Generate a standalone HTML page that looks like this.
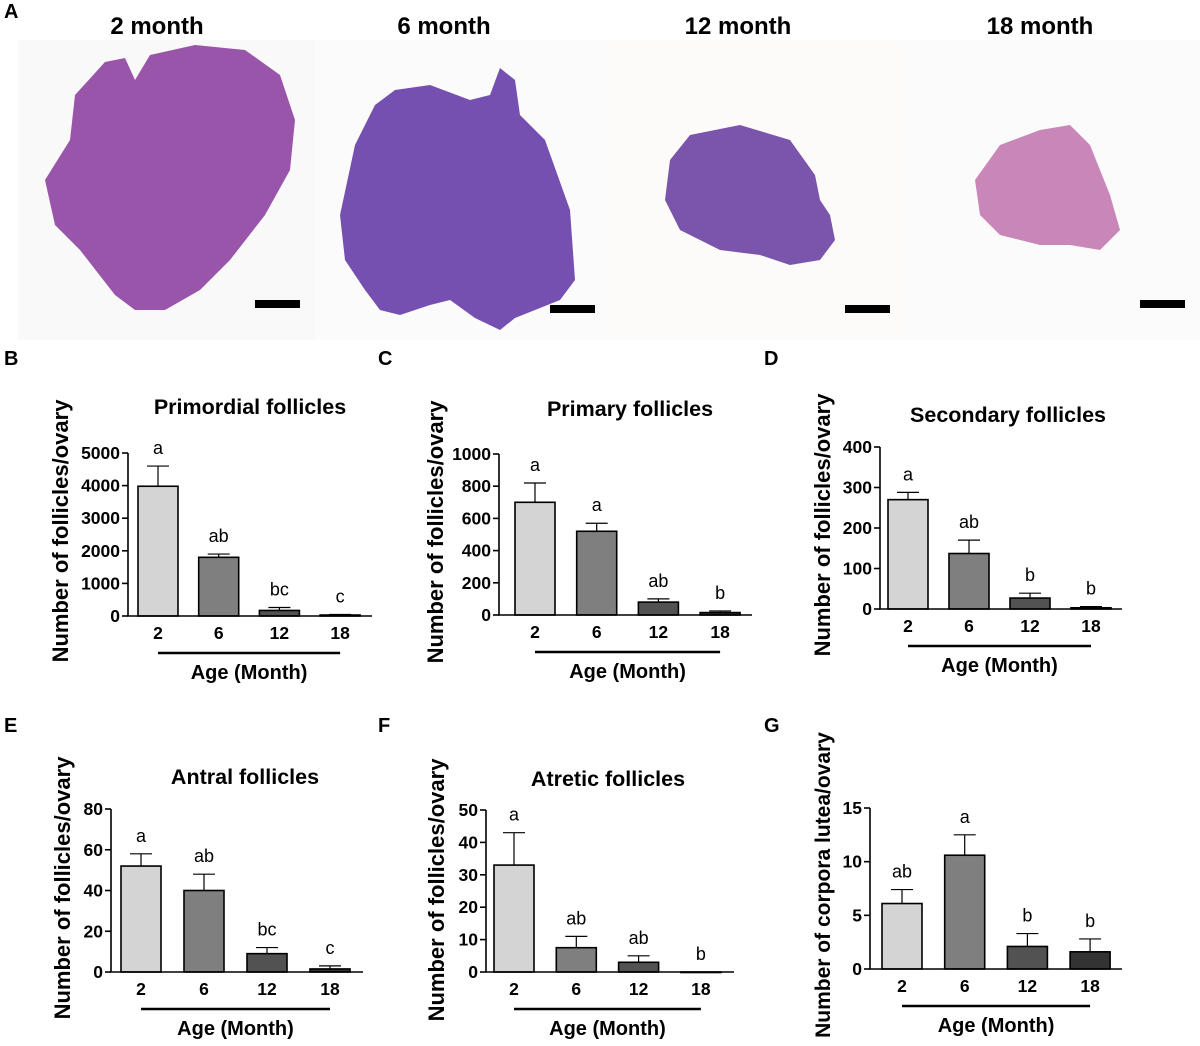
<!DOCTYPE html>
<html><head><meta charset="utf-8"><style>
body{margin:0;background:#fff;}
svg{display:block;font-family:"Liberation Sans",Arial,sans-serif;}
</style></head><body>
<svg id="fig" width="1200" height="1046" viewBox="0 0 1200 1046">
<g>
<text x="4" y="18" font-size="20" font-weight="bold">A</text>
<rect x="18" y="40" width="297" height="300" fill="#f9f9f9"/>
<rect x="315" y="40" width="295" height="300" fill="#fbfbfb"/>
<rect x="610" y="40" width="295" height="300" fill="#fcfbf9"/>
<rect x="905" y="40" width="295" height="300" fill="#fbfbfb"/>
<path d="M45,180 L70,140 L75,95 L105,62 L125,58 L135,80 L150,55 L195,45 L245,50 L280,75 L295,120 L290,170 L265,215 L230,260 L200,290 L165,310 L135,310 L115,295 L80,250 L55,225 Z" fill="#9955aa"/>
<path d="M355,145 L375,105 L395,90 L430,85 L470,100 L490,95 L500,68 L515,80 L520,115 L545,140 L570,210 L575,280 L560,300 L515,318 L500,330 L475,318 L450,300 L430,305 L400,315 L380,310 L365,290 L345,260 L340,215 Z" fill="#7650b0"/>
<path d="M690,135 L740,125 L790,140 L815,175 L820,200 L830,215 L835,240 L820,260 L790,265 L760,255 L720,250 L680,230 L665,200 L670,160 Z" fill="#7a55ab"/>
<path d="M1000,145 L1040,130 L1070,125 L1090,145 L1110,195 L1120,230 L1100,250 L1070,245 L1040,245 L1000,235 L980,215 L975,180 Z" fill="#c986b8"/>
<rect x="255" y="300" width="45" height="8" fill="#000"/>
<rect x="550" y="305" width="45" height="8" fill="#000"/>
<rect x="845" y="305" width="45" height="8" fill="#000"/>
<rect x="1140" y="300" width="45" height="8" fill="#000"/>
<g font-size="24" font-weight="bold" text-anchor="middle">
<text x="157" y="34">2 month</text>
<text x="444" y="34">6 month</text>
<text x="738" y="34">12 month</text>
<text x="1040" y="34">18 month</text>
</g>
</g>
</svg>
<script>
const categories=["2","6","12","18"];
const barColors=["#d4d4d4","#7f7f7f","#525252","#333333"];
const bMeans=[3980,1800,170,30];const bErr=[620,100,90,15];const bLetters=["a","ab","bc","c"];const bTicks=[0,1000,2000,3000,4000,5000];
const cMeans=[700,520,80,15];const cErr=[120,50,20,10];const cLetters=["a","a","ab","b"];const cTicks=[0,200,400,600,800,1000];
const dMeans=[270,137,27,3];const dErr=[18,33,12,3];const dLetters=["a","ab","b","b"];const dTicks=[0,100,200,300,400];
const eMeans=[52,40,9,1.5];const eErr=[6,8,3,1.5];const eLetters=["a","ab","bc","c"];const eTicks=[0,20,40,60,80];
const fMeans=[33,7.5,3,0];const fErr=[10,3.5,2,0];const fLetters=["a","ab","ab","b"];const fTicks=[0,10,20,30,40,50];
const gMeans=[6.1,10.6,2.1,1.6];const gErr=[1.3,1.9,1.2,1.2];const gLetters=["ab","a","b","b"];const gTicks=[0,5,10,15];

const NS="http://www.w3.org/2000/svg";
const svg=document.getElementById('fig');
function mk(tag,attrs,parent,text){const e=document.createElementNS(NS,tag);for(const k in attrs)e.setAttribute(k,attrs[k]);if(text!==undefined)e.textContent=text;parent.appendChild(e);return e;}

function chart(o){
  const g=mk('g',{},svg);
  
  
  const max=o.ticks[o.ticks.length-1];
  const y=v=>o.y0-(v/max)*(o.y0-o.ytop);
  const xc=i=>o.first+i*o.step;
  const pl=mk('text',{x:o.lx,y:o.ly,'font-size':20,'font-weight':'bold'},g,o.id.toUpperCase());
  
  
  if(o.title){const t=mk('text',{x:o.tx,y:o.ty,'font-size':21.5,'font-weight':'bold','text-anchor':'middle'},g,o.title);
  
  }
  const yl=mk('text',{x:0,y:0,'font-size':o.ylfs||22,'font-weight':'bold','text-anchor':'middle',transform:`translate(${o.ylx},${o.yly}) rotate(-90)`},g,o.ylabel);
  
  
  o.means.forEach((m,i)=>{
    const cx=xc(i),top=y(m),et=y(m+o.err[i]);
    if(o.err[i]>0){const el=mk('path',{d:`M${cx},${top} V${et} M${cx-11},${et} H${cx+11}`,stroke:'#000','stroke-width':1.2,fill:'none'},g);
    
    }
    const r=mk('rect',{x:cx-20,y:top,width:40,height:Math.max(o.y0-top,0.5),fill:barColors[i],stroke:'#000','stroke-width':1.6},g);
    
    
    const lt=mk('text',{x:cx,y:Math.min(et,top)-12,'font-size':18,'text-anchor':'middle'},g,o.letters[i]);
    
    
    const tl=mk('text',{x:cx,y:o.y0+23,'font-size':17.5,'font-weight':'bold','text-anchor':'middle'},g,categories[i]);
    
    
  });
  const ax=mk('path',{d:`M${o.ax},${o.ytop} V${o.y0} H${o.xEnd}`,stroke:'#000','stroke-width':1.6,fill:'none'},g);
  
  
  o.ticks.forEach(t=>{
    const tk=mk('line',{x1:o.ax-6,x2:o.ax,y1:y(t),y2:y(t),stroke:'#000','stroke-width':1.6},g);
    
    
    const tl=mk('text',{x:o.ax-8,y:y(t)+6,'font-size':17.5,'font-weight':'bold','text-anchor':'end'},g,String(t));
    
    
  });
  const ul=mk('line',{x1:xc(0),x2:xc(3),y1:o.y0+37,y2:o.y0+37,stroke:'#000','stroke-width':2.5},g);
  
  
  const xt=mk('text',{x:(xc(0)+xc(3))/2,y:o.y0+63,'font-size':20,'font-weight':'bold','text-anchor':'middle'},g,'Age (Month)');
  
  
}
const YL="Number of follicles/ovary";
chart({id:'b',means:bMeans,err:bErr,letters:bLetters,ticks:bTicks,ax:128,y0:616,ytop:453,xEnd:372,first:158,step:60.7,lx:4,ly:365,title:'Primordial follicles',tx:250,ty:414,ylabel:YL,ylx:68,yly:531});
chart({id:'c',means:cMeans,err:cErr,letters:cLetters,ticks:cTicks,ax:499,y0:615,ytop:454,xEnd:752,first:535,step:61.7,lx:378,ly:365,title:'Primary follicles',tx:630,ty:416,ylabel:YL,ylx:443,yly:532});
chart({id:'d',means:dMeans,err:dErr,letters:dLetters,ticks:dTicks,ax:880,y0:609,ytop:447,xEnd:1122,first:908,step:61,lx:764,ly:365,title:'Secondary follicles',tx:1008,ty:422,ylabel:YL,ylx:830,yly:525});
chart({id:'e',means:eMeans,err:eErr,letters:eLetters,ticks:eTicks,ax:111,y0:972,ytop:809,xEnd:363,first:141,step:63,lx:4,ly:732,title:'Antral follicles',tx:245,ty:784,ylabel:YL,ylx:70,yly:888});
chart({id:'f',means:fMeans,err:fErr,letters:fLetters,ticks:fTicks,ax:486,y0:972,ytop:810,xEnd:734,first:514,step:62.3,lx:378,ly:732,title:'Atretic follicles',tx:608,ty:786,ylabel:YL,ylx:444,yly:890});
chart({id:'g',means:gMeans,err:gErr,letters:gLetters,ticks:gTicks,ax:870,y0:969,ytop:808,xEnd:1122,first:902,step:62.7,lx:764,ly:732,title:null,ylabel:'Number of corpora lutea/ovary',ylfs:21,ylx:830,yly:885});
</script>
</body></html>
